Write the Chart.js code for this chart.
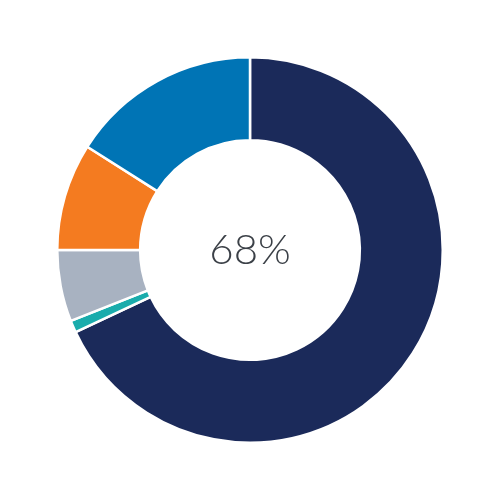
<!DOCTYPE html>
<html><head><meta charset="utf-8">
<script src="https://cdn.jsdelivr.net/npm/chart.js@4"></script>
<style>html,body{margin:0;padding:0;background:#fff}#w{position:relative;width:500px;height:500px}</style>
</head><body><div id="w"><canvas id="c" width="500" height="500"></canvas></div>
<script>
const categories = ["A","B","C","D","E"];
const values = [68, 1, 6, 9, 16];
const colors = ["#1b2a5a","#1aacac","#a8b2c1","#f47b20","#0074b5"];
const centerLabel = "68%";
const centerText = {
  id:'centerText',
  afterDraw(chart){
    const {ctx} = chart; const m = chart.getDatasetMeta(0).data[0];
    ctx.save(); ctx.fillStyle='#3b4047'; ctx.font='300 42px Lato, "Open Sans", sans-serif';
    ctx.textAlign='center'; ctx.textBaseline='middle'; ctx.fillText(centerLabel, m.x, m.y); ctx.restore();
  }
};
new Chart(document.getElementById('c'), {
  type:'doughnut',
  data:{labels:categories, datasets:[{data:values, backgroundColor:colors, borderColor:'#fff', borderWidth:2.5}]},
  options:{responsive:false, animation:false, cutout:'57%', layout:{padding:56},
    plugins:{legend:{display:false}, tooltip:{enabled:false}}},
  plugins:[centerText]
});
</script></body></html>
